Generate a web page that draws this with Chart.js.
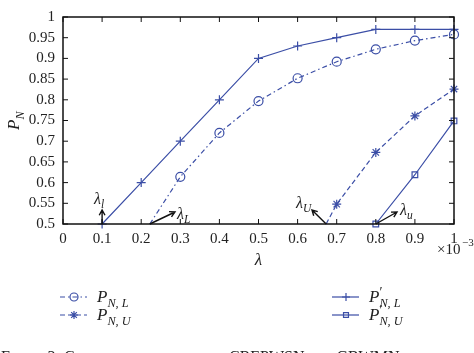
<!DOCTYPE html>
<html>
<head>
<meta charset="utf-8">
<script src="https://cdn.jsdelivr.net/npm/chart.js@4.4.0/dist/chart.umd.min.js"></script>
<style>
    body { margin: 0; background: #fff; }
    #wrap { width: 474px; height: 353px; }
</style>
</head>
<body>
<div id="wrap"><canvas id="myChart" width="474" height="353"></canvas></div>
<script>
// values (lambda in units of 1e-3)
const xTicks = [0, 0.1, 0.2, 0.3, 0.4, 0.5, 0.6, 0.7, 0.8, 0.9, 1];
const yTicks = [0.5, 0.55, 0.6, 0.65, 0.7, 0.75, 0.8, 0.85, 0.9, 0.95, 1];

const pnlX = [0.222, 0.3, 0.4, 0.5, 0.6, 0.7, 0.8, 0.9, 1.0];
const pnl = [0.5, 0.614, 0.72, 0.797, 0.852, 0.892, 0.922, 0.943, 0.958];

const pnuX = [0.673, 0.7, 0.8, 0.9, 1.0];
const pnu = [0.5, 0.548, 0.673, 0.761, 0.826];

const pnlPrimeX = [0.1, 0.2, 0.3, 0.4, 0.5, 0.6, 0.7, 0.8, 0.9, 1.0];
const pnlPrime = [0.5, 0.6, 0.7, 0.8, 0.9, 0.93, 0.95, 0.97, 0.97, 0.97];

const pnuPrimeX = [0.8, 0.9, 1.0];
const pnuPrime = [0.5, 0.619, 0.749];

const blue = '#3b4ea6';
const serif = '"Liberation Serif", "DejaVu Serif", serif';

const toPoints = (xs, ys) => xs.map((x, i) => ({ x: x, y: ys[i] }));

// "P" with subscript and optional prime
function drawSym(ctx, base, sub, x, y, size, prime) {
    ctx.save();
    ctx.fillStyle = '#222';
    ctx.textAlign = 'left';
    ctx.textBaseline = 'alphabetic';
    ctx.font = 'italic ' + size + 'px ' + serif;
    ctx.fillText(base, x, y);
    let w = ctx.measureText(base).width;
    if (prime) {
        ctx.font = size * 0.8 + 'px ' + serif;
        ctx.fillText('\u2032', x + w, y - size * 0.3);
    }
    ctx.font = 'italic ' + size * 0.72 + 'px ' + serif;
    ctx.fillText(sub, x + w, y + size * 0.28);
    ctx.restore();
}

function arrow(ctx, x1, y1, x2, y2) {
    ctx.save();
    ctx.strokeStyle = '#111';
    ctx.lineWidth = 1.4;
    ctx.beginPath();
    ctx.moveTo(x1, y1);
    ctx.lineTo(x2, y2);
    let a = Math.atan2(y2 - y1, x2 - x1);
    ctx.moveTo(x2 - 6 * Math.cos(a - 0.5), y2 - 6 * Math.sin(a - 0.5));
    ctx.lineTo(x2, y2);
    ctx.lineTo(x2 - 6 * Math.cos(a + 0.5), y2 - 6 * Math.sin(a + 0.5));
    ctx.stroke();
    ctx.restore();
}

const decorations = {
    id: 'decorations',
    afterDraw(chart) {
        const ctx = chart.ctx;
        const area = chart.chartArea;
        const xs = chart.scales.x;
        const ys = chart.scales.y;

        // box and inward ticks
        ctx.save();
        ctx.strokeStyle = '#111';
        ctx.lineWidth = 1.5;
        ctx.strokeRect(area.left, area.top, area.right - area.left, area.bottom - area.top);
        ctx.lineWidth = 1;
        ctx.beginPath();
        xTicks.forEach(v => {
            let px = xs.getPixelForValue(v);
            ctx.moveTo(px, area.bottom); ctx.lineTo(px, area.bottom - 5);
            ctx.moveTo(px, area.top); ctx.lineTo(px, area.top + 5);
        });
        yTicks.forEach(v => {
            let py = ys.getPixelForValue(v);
            ctx.moveTo(area.left, py); ctx.lineTo(area.left + 5, py);
            ctx.moveTo(area.right, py); ctx.lineTo(area.right - 5, py);
        });
        ctx.stroke();
        ctx.restore();

        // axis titles
        ctx.save();
        ctx.fillStyle = '#222';
        ctx.font = 'italic 17px ' + serif;
        ctx.textAlign = 'center';
        ctx.fillText('\u03bb', (area.left + area.right) / 2, 265);
        ctx.font = '15px ' + serif;
        ctx.textAlign = 'left';
        ctx.fillText('\u00d710', 437, 254);
        ctx.font = '11px ' + serif;
        ctx.fillText('\u22123', 462, 246);
        ctx.translate(19, 120);
        ctx.rotate(-Math.PI / 2);
        drawSym(ctx, 'P', 'N', -10, 0, 17, false);
        ctx.restore();

        // lambda annotations
        let bx = v => xs.getPixelForValue(v);
        let by = ys.getPixelForValue(0.5);
        arrow(ctx, bx(0.1), by, bx(0.1), by - 14);
        drawSym(ctx, '\u03bb', 'l', 94, 204, 16, false);
        arrow(ctx, bx(0.222), by, 175, 212);
        drawSym(ctx, '\u03bb', 'L', 177, 219, 16, false);
        arrow(ctx, bx(0.673), by, 312, 210);
        drawSym(ctx, '\u03bb', 'U', 296, 208, 16, false);
        arrow(ctx, bx(0.8), by, 397, 212);
        drawSym(ctx, '\u03bb', 'u', 400, 215, 16, false);

        // legend
        const items = [
            { x: 60, y: 297, dash: [5, 3, 1.5, 3], style: 'circle', label: 'L', prime: false },
            { x: 60, y: 315, dash: [5, 3], style: 'star', label: 'U', prime: false },
            { x: 332, y: 297, dash: [], style: 'cross', label: 'L', prime: true },
            { x: 332, y: 315, dash: [], style: 'rect', label: 'U', prime: true }
        ];
        items.forEach(it => {
            ctx.save();
            ctx.strokeStyle = blue;
            ctx.lineWidth = 1.2;
            ctx.setLineDash(it.dash);
            ctx.beginPath();
            ctx.moveTo(it.x, it.y);
            ctx.lineTo(it.x + 27, it.y);
            ctx.stroke();
            ctx.setLineDash([]);
            Chart.helpers.drawPoint(ctx, {
                pointStyle: it.style, radius: it.style === 'rect' ? 3.5 : 4,
                rotation: 0, borderWidth: 1.2
            }, it.x + 14, it.y);
            ctx.restore();
            drawSym(ctx, 'P', 'N, ' + it.label, it.x + 37, it.y + 5, 17, it.prime);
        });

        // caption, cut by the bottom edge
        ctx.save();
        ctx.fillStyle = '#222';
        ctx.font = 'small-caps 16px ' + serif;
        ctx.textAlign = 'left';
        ctx.fillText('Figure 3: Comparison of \u03bb between CREPWSN and GBWMN with', 1, 362);
        ctx.restore();
    }
};

const ctx = document.getElementById('myChart').getContext('2d');
new Chart(ctx, {
    type: 'scatter',
    data: {
        datasets: [
            {
                label: 'P_N,L',
                data: toPoints(pnlX, pnl),
                showLine: true,
                borderColor: blue,
                borderWidth: 1.2,
                borderDash: [5, 3, 1.5, 3],
                pointStyle: 'circle',
                pointRadius: pnlX.map((x, i) => i === 0 ? 0 : 4.5),
                pointBorderColor: blue,
                pointBackgroundColor: 'rgba(0,0,0,0)',
                pointBorderWidth: 1.2
            },
            {
                label: 'P_N,U',
                data: toPoints(pnuX, pnu),
                showLine: true,
                borderColor: blue,
                borderWidth: 1.2,
                borderDash: [5, 3],
                pointStyle: 'star',
                pointRadius: pnuX.map((x, i) => i === 0 ? 0 : 4.5),
                pointBorderColor: blue,
                pointBorderWidth: 1.2
            },
            {
                label: "P'_N,L",
                data: toPoints(pnlPrimeX, pnlPrime),
                showLine: true,
                borderColor: blue,
                borderWidth: 1.2,
                pointStyle: 'cross',
                pointRadius: 4.5,
                pointBorderColor: blue,
                pointBorderWidth: 1.2
            },
            {
                label: "P'_N,U",
                data: toPoints(pnuPrimeX, pnuPrime),
                showLine: true,
                borderColor: blue,
                borderWidth: 1.2,
                pointStyle: 'rect',
                pointRadius: 4,
                pointBorderColor: blue,
                pointBackgroundColor: 'rgba(0,0,0,0)',
                pointBorderWidth: 1.2
            }
        ]
    },
    options: {
        responsive: false,
        animation: false,
        clip: false,
        layout: { padding: { top: 7, right: 20, bottom: 0, left: 0 } },
        plugins: {
            legend: { display: false },
            tooltip: { enabled: false }
        },
        scales: {
            x: {
                type: 'linear',
                min: 0,
                max: 1,
                afterFit: s => { s.height = 129; },
                afterBuildTicks: s => { s.ticks = xTicks.map(v => ({ value: v })); },
                grid: { display: false, drawTicks: false },
                border: { display: false },
                ticks: {
                    autoSkip: false,
                    maxRotation: 0,
                    color: '#222',
                    padding: 6,
                    font: { family: serif, size: 15 },
                    callback: v => String(v)
                }
            },
            y: {
                type: 'linear',
                min: 0.5,
                max: 1,
                afterFit: s => { s.width = 63; },
                afterBuildTicks: s => { s.ticks = yTicks.map(v => ({ value: v })); },
                grid: { display: false, drawTicks: false },
                border: { display: false },
                ticks: {
                    autoSkip: false,
                    color: '#222',
                    padding: 8,
                    font: { family: serif, size: 15 },
                    callback: v => String(Math.round(v * 100) / 100)
                }
            }
        }
    },
    plugins: [decorations]
});
</script>
</body>
</html>
